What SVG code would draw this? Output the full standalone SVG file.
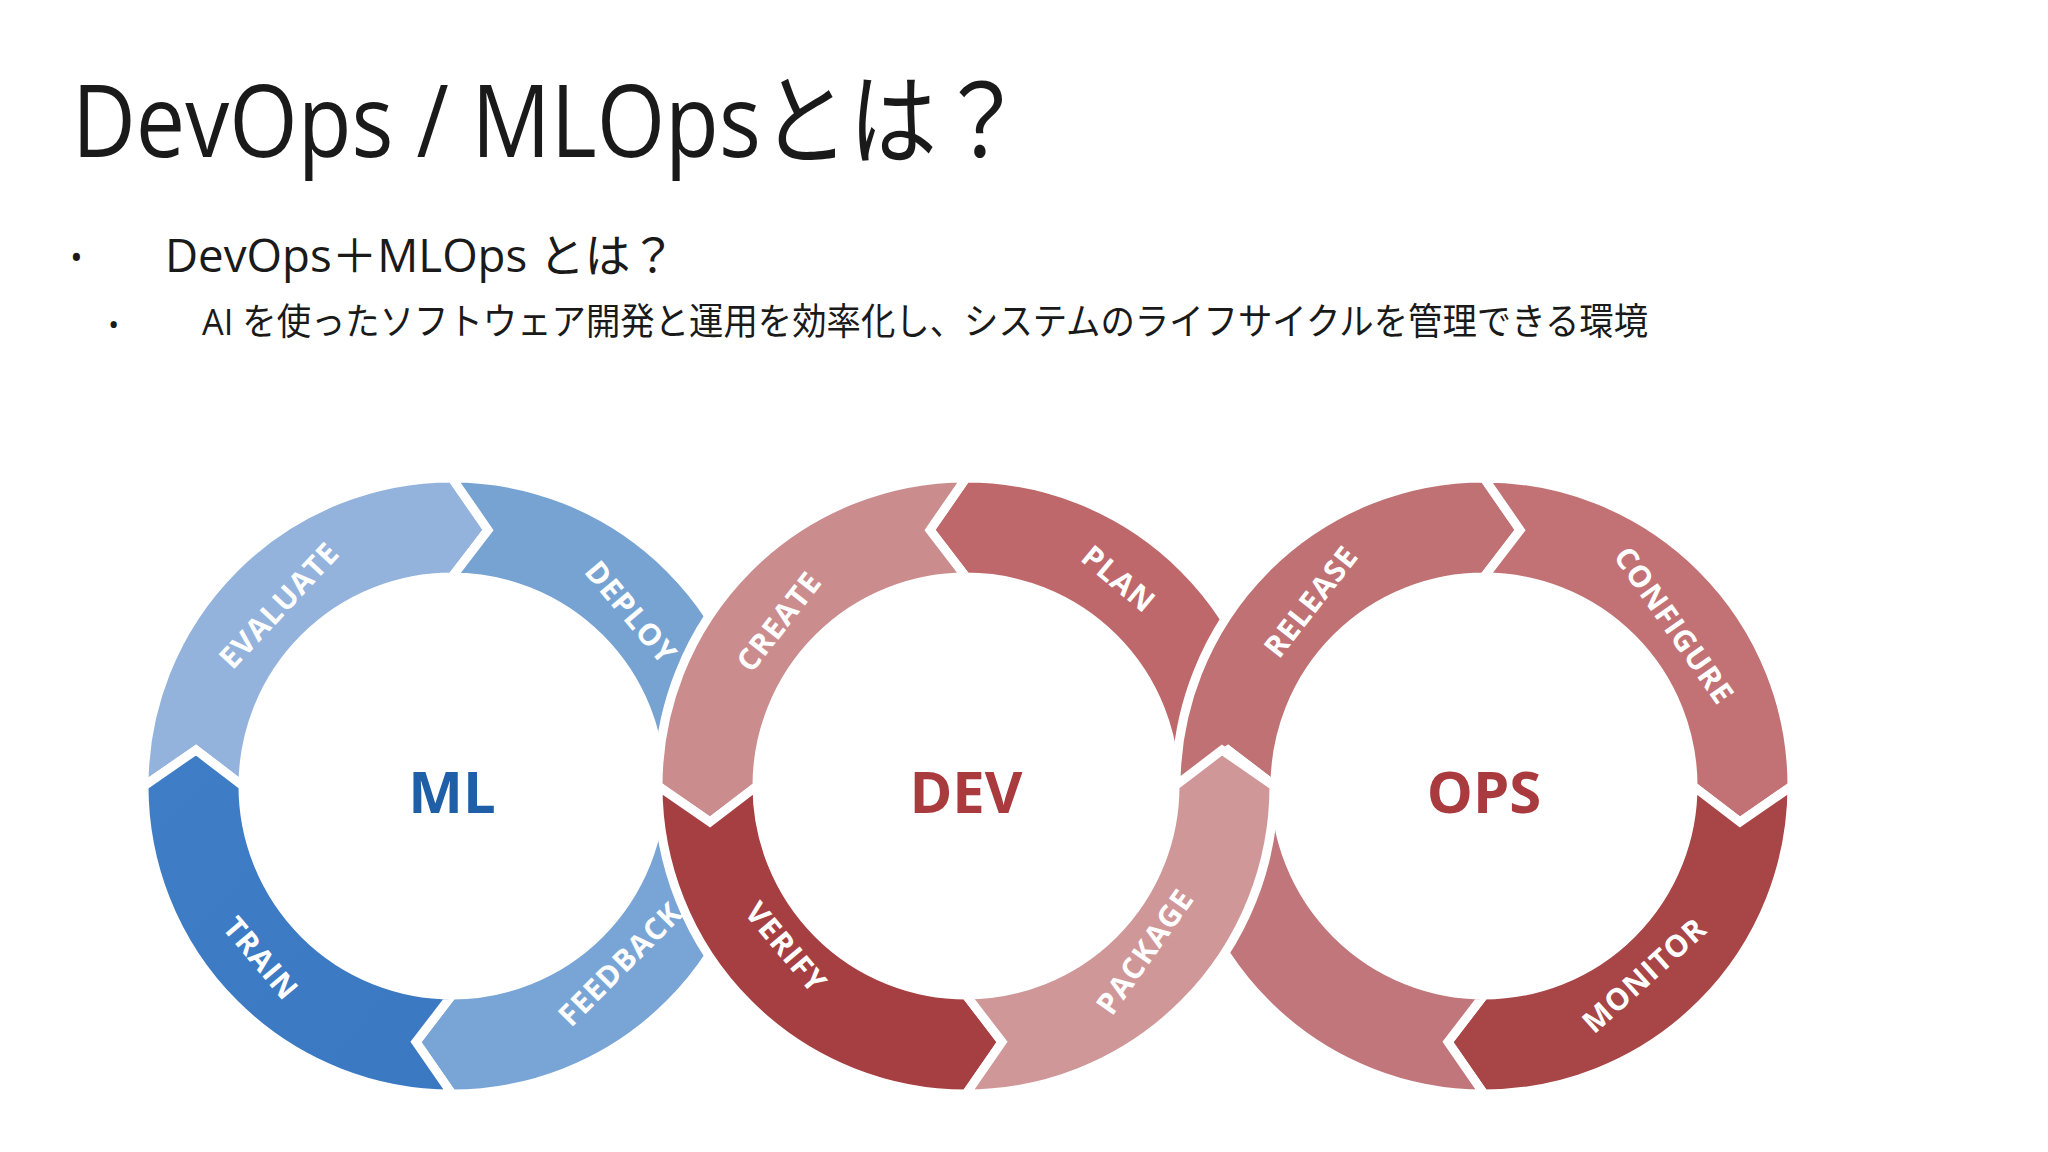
<svg xmlns="http://www.w3.org/2000/svg" width="2048" height="1152" viewBox="0 0 2048 1152">
<style>
.t{font-family:"Open Sans","Noto Sans","Noto Sans CJK JP",sans-serif;fill:#1a1a1a}
.seg{stroke:#fff;stroke-width:9;stroke-linejoin:miter}
.lbl{font-family:"Open Sans","Liberation Sans",sans-serif;font-weight:bold;font-size:30px;fill:#fff;text-anchor:middle;dominant-baseline:middle;letter-spacing:1px}
.ctr{font-family:"Open Sans","Liberation Sans",sans-serif;font-weight:bold;font-size:58px;text-anchor:middle;dominant-baseline:middle}
</style>
<defs>
<linearGradient id="gTrain" x1="0" y1="0" x2="1" y2="1"><stop offset="0" stop-color="#3f7dc6"/><stop offset="1" stop-color="#3b78c2"/></linearGradient>
</defs>
<rect width="2048" height="1152" fill="#fff"/>
<text class="t" x="72" y="157" font-size="100" textLength="953" lengthAdjust="spacingAndGlyphs">DevOps / MLOpsとは？</text>
<text class="t" x="70" y="270" font-size="34">•</text>
<text class="t" x="165" y="272" font-size="46" textLength="511" lengthAdjust="spacingAndGlyphs">DevOps＋MLOps とは？</text>
<text class="t" x="108" y="335" font-size="30">•</text>
<text class="t" x="202" y="335" font-size="37" textLength="1446" lengthAdjust="spacingAndGlyphs">AI を使ったソフトウェア開発と運用を効率化し、システムのライフサイクルを管理できる環境</text>

<g id="ring-ml">
<path class="seg" fill="#93b3dd" d="M144,786 L196,750 L243,786 A209 209 0 0 1 452,577 L488,530 L452,478 A308 308 0 0 0 144,786 Z"/>
<path class="seg" fill="#77a3d3" d="M452,478 L488,530 L452,577 A209 209 0 0 1 661,786 L708,822 L760,786 A308 308 0 0 0 452,478 Z"/>
<path class="seg" fill="#78a5d5" d="M760,786 L708,822 L661,786 A209 209 0 0 1 452,995 L416,1042 L452,1094 A308 308 0 0 0 760,786 Z"/>
<path class="seg" fill="url(#gTrain)" d="M452,1094 L416,1042 L452,995 A209 209 0 0 1 243,786 L196,750 L144,786 A308 308 0 0 0 452,1094 Z"/>
</g>
<g id="ring-dev">
<path class="seg" fill="#bf686b" d="M1274,786 L1222,750 L1175,786 A209 209 0 0 0 966,577 L930,530 L966,478 A308 308 0 0 1 1274,786 Z"/>
<path class="seg" fill="#cb8c8e" d="M966,478 L930,530 L966,577 A209 209 0 0 0 757,786 L710,822 L658,786 A308 308 0 0 1 966,478 Z"/>
<path class="seg" fill="#a63f42" d="M658,786 L710,822 L757,786 A209 209 0 0 0 966,995 L1002,1042 L966,1094 A308 308 0 0 1 658,786 Z"/>
</g>
<g id="ring-ops">
<path class="seg" fill="#bf7174" d="M1176,786 L1228,750 L1275,786 A209 209 0 0 1 1484,577 L1520,530 L1484,478 A308 308 0 0 0 1176,786 Z"/>
<path class="seg" fill="#c27275" d="M1484,478 L1520,530 L1484,577 A209 209 0 0 1 1693,786 L1740,822 L1792,786 A308 308 0 0 0 1484,478 Z"/>
<path class="seg" fill="#a84547" d="M1792,786 L1740,822 L1693,786 A209 209 0 0 1 1484,995 L1448,1042 L1484,1094 A308 308 0 0 0 1792,786 Z"/>
<path class="seg" fill="#c0767a" d="M1484,1094 L1448,1042 L1484,995 A209 209 0 0 1 1275,786 L1228,750 L1176,786 A308 308 0 0 0 1484,1094 Z"/>
</g>
<g id="seg-package">
<path class="seg" fill="#d09799" d="M966,1094 L1002,1042 L966,995 A209 209 0 0 0 1175,786 L1222,750 L1274,786 A308 308 0 0 1 966,1094 Z"/>
</g>
<g id="labels">
<text class="lbl" transform="translate(281,607) rotate(-47)">EVALUATE</text>
<text class="lbl" transform="translate(629,614) rotate(50)">DEPLOY</text>
<text class="lbl" transform="translate(259,960) rotate(50)">TRAIN</text>
<text class="lbl" transform="translate(622,966) rotate(-45)">FEEDBACK</text>
<text class="lbl" transform="translate(781,623) rotate(-52)">CREATE</text>
<text class="lbl" transform="translate(1117,581) rotate(40)">PLAN</text>
<text class="lbl" transform="translate(784,949) rotate(50)">VERIFY</text>
<text class="lbl" transform="translate(1147,953) rotate(-55)">PACKAGE</text>
<text class="lbl" transform="translate(1313,603) rotate(-52)">RELEASE</text>
<text class="lbl" transform="translate(1672,627) rotate(55)">CONFIGURE</text>
<text class="lbl" transform="translate(1646,977) rotate(-42)">MONITOR</text>
</g>
<g id="centers">
<text class="ctr" x="452" y="797" fill="#1f5fa8">ML</text>
<text class="ctr" x="966" y="797" fill="#a93a3e">DEV</text>
<text class="ctr" x="1484" y="797" fill="#a93a3e">OPS</text>
</g>
</svg>
